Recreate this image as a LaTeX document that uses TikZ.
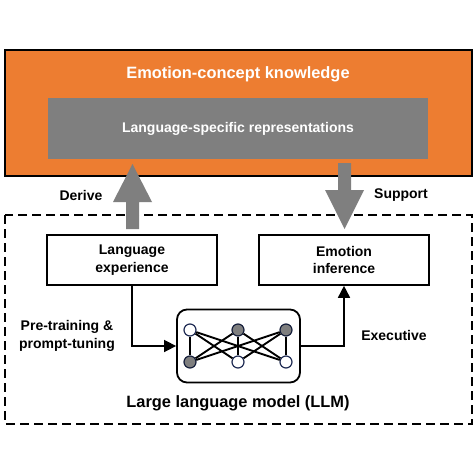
\documentclass[tikz,border=0pt]{standalone}
\usepackage{fontspec}
\setmainfont{Liberation Sans}
\usetikzlibrary{arrows.meta}
\definecolor{orangeb}{RGB}{237,125,49}
\definecolor{grayb}{RGB}{127,127,127}
\definecolor{navy}{RGB}{32,44,84}
\tikzset{
 x=1pt,y=-1pt,
 lab/.style={font=\bfseries\fontsize{14}{17.5}\selectfont,align=center,text=black,inner sep=0pt},
 wlab/.style={lab,text=white},
 biglab/.style={font=\bfseries\fontsize{16.4}{18}\selectfont},
 box/.style={draw=black,line width=1.6pt,fill=white},
 fat/.style={fill=grayb,draw=none},
 conn/.style={line width=1.6pt,-{Triangle[length=12pt,width=12pt]}},
 edgeb/.style={line width=1.9pt},
 wn/.style={circle,draw=navy,line width=1.2pt,fill=white,minimum size=12pt,inner sep=0pt},
 gn/.style={circle,draw=navy!70!black,line width=1.2pt,fill=grayb,minimum size=12pt,inner sep=0pt},
}
\begin{document}
\begin{tikzpicture}
\useasboundingbox (0,0) rectangle (474,474);
\fill[white] (0,0) rectangle (474,474);
% orange
\path[draw=black,line width=1.8pt,fill=orangeb] (5,50) rectangle (472,176);
\node[wlab,biglab] (title) at (238,74.5) {Emotion-concept knowledge};
\fill[grayb] (48,98) rectangle (428,159);
\node[wlab] (rep) at (238,129) {Language-specific representations};
% dashed
\draw[black,line width=1.7pt,dash pattern=on 9pt off 5pt] (5,215) rectangle (472,424);
% boxes
\node[box,minimum width=170pt,minimum height=50pt,inner sep=0pt] (exp) at (132,260) {};
\node[lab] (expt) at (132,260) {Language\\experience};
\node[box,minimum width=170pt,minimum height=50pt,inner sep=0pt] (inf) at (344,260) {};
\node[lab] (inft) at (344,260) {Emotion\\inference};
% fat arrows
\path[fat] (126,229) -- (126,202) -- (113,202) -- (132.5,164) -- (152,202) -- (139,202) -- (139,229) -- cycle;
\path[fat] (338,163) -- (338,190) -- (325,190) -- (344.5,229) -- (364,190) -- (351,190) -- (351,163) -- cycle;
\node[lab] (derive) at (81,195) {Derive};
\node[lab] (support) at (401,195) {Support};
% LLM
\node[draw=black,line width=1.8pt,fill=white,rounded corners=10pt,minimum width=123pt,minimum height=73pt,inner sep=0pt] (llm) at (238.5,346) {};
\node[wn] (a1) at (190,330) {};
\node[gn] (a2) at (238,330) {};
\node[gn] (a3) at (286,330) {};
\node[gn] (b1) at (190,362) {};
\node[wn] (b2) at (238,362) {};
\node[wn] (b3) at (286,362) {};
\foreach \p/\q in {a1/b1,a1/b2,a1/b3,a2/b1,a2/b2,a2/b3,a3/b1,a3/b2,a3/b3}{\draw[edgeb] (\p) -- (\q);}
\draw[conn] (exp.south) |- (llm.west);
\draw[conn] (llm.east) -| (inf.south);
\node[lab] (pre) at (67,336) {Pre-training \&\\prompt-tuning};
\node[lab] (exec) at (394,335) {Executive};
\node[lab,biglab] (name) at (238,403.5) {Large language model (LLM)};
\end{tikzpicture}
\end{document}
